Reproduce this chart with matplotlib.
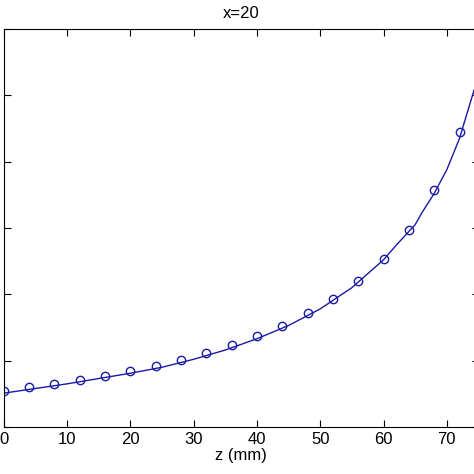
import matplotlib
matplotlib.use("Agg")
import matplotlib.pyplot as plt

plt.rcParams['font.family'] = ['Liberation Sans', 'DejaVu Sans']

# measured points (circles)
z_pts = [0, 4, 8, 12, 16, 20, 24, 28, 32, 36, 40, 44, 48, 52, 56, 60, 64, 68, 72]
v_pts = [0.54, 0.60, 0.65, 0.71, 0.77, 0.84, 0.92, 1.01, 1.12, 1.24, 1.37, 1.52,
         1.72, 1.93, 2.20, 2.53, 2.97, 3.57, 4.45]

# model curve
z_line = [0, 5, 10, 15, 20, 25, 30, 35, 40, 45, 50, 55, 60, 62, 65, 66, 68, 70, 72, 74.3]
v_line = [0.51, 0.58, 0.65, 0.73, 0.81, 0.90, 1.02, 1.16, 1.33, 1.53, 1.78, 2.10,
          2.52, 2.74, 3.05, 3.22, 3.52, 3.88, 4.35, 5.08]

fig = plt.figure(figsize=(4.74, 4.74), dpi=100)
ax = fig.add_axes([3.5 / 474, 1 - 427 / 474, 475 / 474, 398 / 474])
ax.plot(z_line, v_line, color='#1a1aa6', lw=1)
ax.plot(z_pts, v_pts, 'o', mfc='none', mec='#1a1aa6', ms=6, mew=1)
ax.set_xlim(0, 75)
ax.set_ylim(0, 6)
ax.set_xticks(range(0, 80, 10))
ax.set_yticks(range(0, 7))
ax.set_yticklabels([])
ax.tick_params(direction='in', top=True, right=True, labelsize=12, length=5)
ax.set_xlabel('z (mm)', fontsize=12, labelpad=1)
ax.set_title('x=20', fontsize=12, pad=8)
fig.savefig('out.png', dpi=100)
